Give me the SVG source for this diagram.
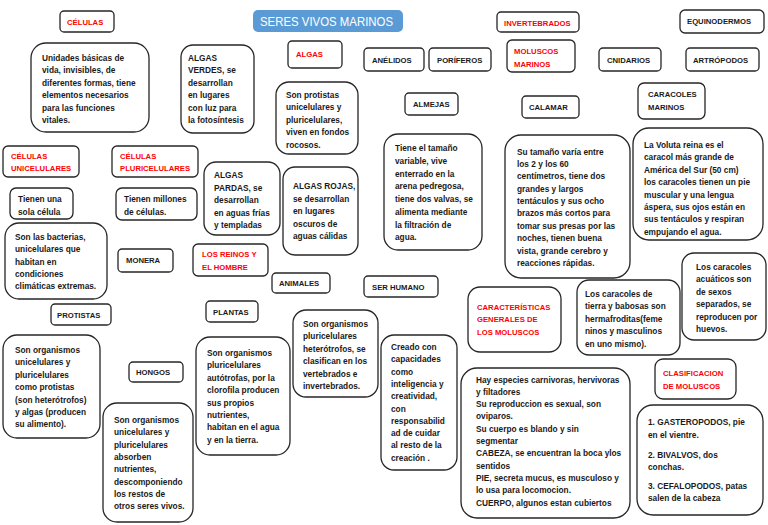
<svg xmlns="http://www.w3.org/2000/svg" width="768" height="525" viewBox="0 0 768 525">
<style>
rect.b{fill:#fff;stroke:#262626;stroke-width:1.3}
text{font-family:"Liberation Sans",Arial,sans-serif;font-weight:bold;font-size:8.3px;fill:#1a1a1a}
text.l{font-size:7.7px}
text.r{fill:#ff0000;font-size:7.7px}
text.ti{fill:#fff;font-weight:normal;font-size:13.5px}
</style>
<rect width="768" height="525" fill="#fff"/>
<g id="connectors"/>
<g id="title"><rect x="253" y="10" width="150" height="22" rx="5" fill="#5b9bd5"/><text class="ti" x="260" y="26" textLength="133" lengthAdjust="spacingAndGlyphs">SERES VIVOS MARINOS</text></g>
<g id="celulas"><rect class="b" x="60" y="11" width="54" height="21" rx="4"/><text class="r" x="67" y="24.5">CÉLULAS</text></g>
<g id="invertebrados"><rect class="b" x="497" y="12" width="82" height="20" rx="4"/><text class="r" x="504" y="25.5">INVERTEBRADOS</text></g>
<g id="equinodermos"><rect class="b" x="680" y="10" width="84" height="23" rx="5"/><text class="l" x="687" y="23.5">EQUINODERMOS</text></g>
<g id="unidades"><rect class="b" x="31" y="43" width="118" height="89" rx="15"/><text x="42" y="61"><tspan x="42" y="61">Unidades básicas de</tspan><tspan x="42" y="73.4">vida, invisibles, de</tspan><tspan x="42" y="85.8">diferentes formas, tiene</tspan><tspan x="42" y="98.2">elementos necesarios</tspan><tspan x="42" y="110.6">para las funciones</tspan><tspan x="42" y="123">vitales.</tspan></text></g>
<g id="algas-verdes"><rect class="b" x="181" y="45" width="73" height="88" rx="12"/><text x="188" y="61"><tspan x="188" y="61">ALGAS</tspan><tspan x="188" y="73.4">VERDES, se</tspan><tspan x="188" y="85.8">desarrollan</tspan><tspan x="188" y="98.2">en lugares</tspan><tspan x="188" y="110.6">con luz para</tspan><tspan x="188" y="123">la fotosíntesis</tspan></text></g>
<g id="algas"><rect class="b" x="288" y="41" width="54" height="27" rx="4"/><text class="r" x="296" y="56.5">ALGAS</text></g>
<g id="algas-desc"><rect class="b" x="276" y="82" width="82" height="72" rx="13"/><text x="286" y="98"><tspan x="286" y="98">Son protistas</tspan><tspan x="286" y="110.4">unicelulares y</tspan><tspan x="286" y="122.8">pluricelulares,</tspan><tspan x="286" y="135.2">viven en fondos</tspan><tspan x="286" y="147.6">rocosos.</tspan></text></g>
<g id="anelidos"><rect class="b" x="364" y="48" width="60" height="23" rx="4"/><text class="l" x="372" y="63">ANÉLIDOS</text></g>
<g id="poriferos"><rect class="b" x="429" y="48" width="62" height="23" rx="4"/><text class="l" x="437" y="63">PORÍFEROS</text></g>
<g id="moluscos-marinos"><rect class="b" x="507" y="40" width="68" height="32" rx="5"/><text class="r" x="514" y="54"><tspan x="514" y="54">MOLUSCOS</tspan><tspan x="514" y="66.5">MARINOS</tspan></text></g>
<g id="cnidarios"><rect class="b" x="599" y="48" width="62" height="23" rx="4"/><text class="l" x="607" y="63">CNIDARIOS</text></g>
<g id="artropodos"><rect class="b" x="686" y="48" width="73" height="23" rx="4"/><text class="l" x="693" y="63">ARTRÓPODOS</text></g>
<g id="almejas"><rect class="b" x="405" y="93" width="53" height="22" rx="4"/><text class="l" x="413" y="106.5">ALMEJAS</text></g>
<g id="calamar"><rect class="b" x="522" y="96" width="57" height="22" rx="4"/><text class="l" x="529" y="110">CALAMAR</text></g>
<g id="caracoles-marinos"><rect class="b" x="638" y="83" width="67" height="36" rx="6"/><text class="l" x="648" y="97"><tspan x="648" y="97">CARACOLES</tspan><tspan x="648" y="110">MARINOS</tspan></text></g>
<g id="almejas-desc"><rect class="b" x="384" y="134" width="98" height="116" rx="14"/><text x="395" y="151.3"><tspan x="395" y="151.3">Tiene el tamaño</tspan><tspan x="395" y="164">variable, vive</tspan><tspan x="395" y="176.7">enterrado en la</tspan><tspan x="395" y="189.4">arena pedregosa,</tspan><tspan x="395" y="202.1">tiene dos valvas, se</tspan><tspan x="395" y="214.8">alimenta mediante</tspan><tspan x="395" y="227.5">la filtración de</tspan><tspan x="395" y="240.2">agua.</tspan></text></g>
<g id="calamar-desc"><rect class="b" x="505" y="135" width="125" height="143" rx="16"/><text x="517" y="154.7"><tspan x="517" y="154.7">Su tamaño varía entre</tspan><tspan x="517" y="167">los 2 y los 60</tspan><tspan x="517" y="179.4">centímetros, tiene dos</tspan><tspan x="517" y="191.7">grandes y largos</tspan><tspan x="517" y="204.1">tentáculos y sus ocho</tspan><tspan x="517" y="216.4">brazos más cortos para</tspan><tspan x="517" y="228.8">tomar sus presas por las</tspan><tspan x="517" y="241.1">noches, tienen buena</tspan><tspan x="517" y="253.5">vista, grande cerebro y</tspan><tspan x="517" y="265.8">reacciones rápidas.</tspan></text></g>
<g id="voluta"><rect class="b" x="633" y="128" width="130" height="112" rx="16"/><text x="644" y="148"><tspan x="644" y="148">La Voluta reina es el</tspan><tspan x="644" y="160.4">caracol más grande de</tspan><tspan x="644" y="172.8">América del Sur (50 cm)</tspan><tspan x="644" y="185.2">los caracoles tienen un pie</tspan><tspan x="644" y="197.6">muscular y una lengua</tspan><tspan x="644" y="210">áspera, sus ojos están en</tspan><tspan x="644" y="222.4">sus tentáculos y respiran</tspan><tspan x="644" y="234.8">empujando el agua.</tspan></text></g>
<g id="caracoles-acuaticos"><rect class="b" x="682" y="253" width="84" height="87" rx="12"/><text x="696" y="270"><tspan x="696" y="270">Los caracoles</tspan><tspan x="696" y="282.4">acuáticos son</tspan><tspan x="696" y="294.8">de sexos</tspan><tspan x="696" y="307.2">separados, se</tspan><tspan x="696" y="319.6">reproducen por</tspan><tspan x="696" y="332">huevos.</tspan></text></g>
<g id="caracoles-tierra"><rect class="b" x="577" y="280" width="103" height="75" rx="12"/><text x="585" y="297"><tspan x="585" y="297">Los caracoles de</tspan><tspan x="585" y="309.4">tierra y babosas son</tspan><tspan x="585" y="321.8">hermafroditas(feme</tspan><tspan x="585" y="334.2">ninos y masculinos</tspan><tspan x="585" y="346.6">en uno mismo).</tspan></text></g>
<g id="celulas-uni"><rect class="b" x="3" y="146" width="76" height="31" rx="5"/><text class="r" x="11" y="159"><tspan x="11" y="159">CÉLULAS</tspan><tspan x="11" y="171.4">UNICELULARES</tspan></text></g>
<g id="celulas-pluri"><rect class="b" x="112" y="146" width="86" height="31" rx="5"/><text class="r" x="120" y="159"><tspan x="120" y="159">CÉLULAS</tspan><tspan x="120" y="171.4">PLURICELULARES</tspan></text></g>
<g id="una-celula"><rect class="b" x="10" y="188" width="63" height="31" rx="6"/><text x="18" y="202"><tspan x="18" y="202">Tienen una</tspan><tspan x="18" y="214.5">sola célula</tspan></text></g>
<g id="millones"><rect class="b" x="116" y="188" width="81" height="32" rx="6"/><text x="124" y="202"><tspan x="124" y="202">Tienen millones</tspan><tspan x="124" y="214.5">de células.</tspan></text></g>
<g id="bacterias"><rect class="b" x="5" y="223" width="102" height="76" rx="14"/><text x="15" y="240"><tspan x="15" y="240">Son las bacterias,</tspan><tspan x="15" y="252.3">unicelulares que</tspan><tspan x="15" y="264.6">habitan en</tspan><tspan x="15" y="276.9">condiciones</tspan><tspan x="15" y="289.2">climáticas extremas.</tspan></text></g>
<g id="monera"><rect class="b" x="118" y="249" width="55" height="23" rx="4"/><text class="l" x="126" y="263">MONERA</text></g>
<g id="protistas"><rect class="b" x="51" y="304" width="60" height="21" rx="4"/><text class="l" x="57" y="318">PROTISTAS</text></g>
<g id="algas-pardas"><rect class="b" x="204" y="162" width="76" height="73" rx="12"/><text x="214" y="178"><tspan x="214" y="178">ALGAS</tspan><tspan x="214" y="190.5">PARDAS, se</tspan><tspan x="214" y="203">desarrollan</tspan><tspan x="214" y="215.5">en aguas frías</tspan><tspan x="214" y="228">y templadas</tspan></text></g>
<g id="algas-rojas"><rect class="b" x="283" y="167" width="75" height="88" rx="12"/><text x="293" y="189"><tspan x="293" y="189">ALGAS ROJAS,</tspan><tspan x="293" y="201.5">se desarrollan</tspan><tspan x="293" y="214">en lugares</tspan><tspan x="293" y="226.5">oscuros de</tspan><tspan x="293" y="239">aguas cálidas</tspan></text></g>
<g id="reinos"><rect class="b" x="193" y="244" width="75" height="32" rx="5"/><text class="r" x="202" y="257"><tspan x="202" y="257">LOS REINOS Y</tspan><tspan x="202" y="269.5">EL HOMBRE</tspan></text></g>
<g id="animales"><rect class="b" x="272" y="273" width="58" height="20" rx="4"/><text class="l" x="279" y="286">ANIMALES</text></g>
<g id="ser-humano"><rect class="b" x="364" y="276" width="74" height="21" rx="4"/><text class="l" x="372" y="289.5">SER HUMANO</text></g>
<g id="plantas"><rect class="b" x="206" y="301" width="52" height="21" rx="4"/><text class="l" x="213" y="314.5">PLANTAS</text></g>
<g id="plantas-desc"><rect class="b" x="196" y="337" width="94" height="118" rx="14"/><text x="207" y="356"><tspan x="207" y="356">Son organismos</tspan><tspan x="207" y="368.4">pluricelulares</tspan><tspan x="207" y="380.8">autótrofas, por la</tspan><tspan x="207" y="393.2">clorofila producen</tspan><tspan x="207" y="405.6">sus propios</tspan><tspan x="207" y="418">nutrientes,</tspan><tspan x="207" y="430.4">habitan en el agua</tspan><tspan x="207" y="442.8">y en la tierra.</tspan></text></g>
<g id="animales-desc"><rect class="b" x="293" y="310" width="85" height="87" rx="13"/><text x="303" y="327"><tspan x="303" y="327">Son organismos</tspan><tspan x="303" y="339.4">pluricelulares</tspan><tspan x="303" y="351.8">heterótrofos, se</tspan><tspan x="303" y="364.2">clasifican en los</tspan><tspan x="303" y="376.6">vertebrados e</tspan><tspan x="303" y="389">invertebrados.</tspan></text></g>
<g id="protistas-desc"><rect class="b" x="3" y="335" width="97" height="103" rx="14"/><text x="15" y="353"><tspan x="15" y="353">Son organismos</tspan><tspan x="15" y="365.4">unicelulares y</tspan><tspan x="15" y="377.8">pluricelulares</tspan><tspan x="15" y="390.2">como protistas</tspan><tspan x="15" y="402.6">(son heterótrofos)</tspan><tspan x="15" y="415">y algas (producen</tspan><tspan x="15" y="427.4">su alimento).</tspan></text></g>
<g id="hongos"><rect class="b" x="129" y="362" width="54" height="20" rx="4"/><text class="l" x="136" y="375">HONGOS</text></g>
<g id="hongos-desc"><rect class="b" x="103" y="403" width="90" height="119" rx="14"/><text x="114" y="423"><tspan x="114" y="423">Son organismos</tspan><tspan x="114" y="435.3">unicelulares y</tspan><tspan x="114" y="447.6">pluricelulares</tspan><tspan x="114" y="459.9">absorben</tspan><tspan x="114" y="472.2">nutrientes,</tspan><tspan x="114" y="484.5">descomponiendo</tspan><tspan x="114" y="496.8">los restos de</tspan><tspan x="114" y="509.1">otros seres vivos.</tspan></text></g>
<g id="humano-desc"><rect class="b" x="381" y="335" width="76" height="135" rx="13"/><text x="391" y="350"><tspan x="391" y="350">Creado con</tspan><tspan x="391" y="362.3">capacidades</tspan><tspan x="391" y="374.6">como</tspan><tspan x="391" y="386.9">inteligencia y</tspan><tspan x="391" y="399.2">creatividad,</tspan><tspan x="391" y="411.5">con</tspan><tspan x="391" y="423.8">responsabilid</tspan><tspan x="391" y="436.1">ad de cuidar</tspan><tspan x="391" y="448.4">al resto de la</tspan><tspan x="391" y="460.7">creación .</tspan></text></g>
<g id="caracteristicas"><rect class="b" x="468" y="287" width="93" height="65" rx="12"/><text class="r" x="477" y="310"><tspan x="477" y="310">CARACTERÍSTICAS</tspan><tspan x="477" y="322.4">GENERALES DE</tspan><tspan x="477" y="334.8">LOS MOLUSCOS</tspan></text></g>
<g id="hay-especies"><rect class="b" x="461" y="368" width="169" height="150" rx="16"/><text x="476" y="382.5"><tspan x="476" y="382.5">Hay especies carnivoras, hervivoras</tspan><tspan x="476" y="394.8">y filtadores</tspan><tspan x="476" y="407.1">Su reproduccion es sexual, son</tspan><tspan x="476" y="419.4">oviparos.</tspan><tspan x="476" y="431.7">Su cuerpo es blando y sin</tspan><tspan x="476" y="444">segmentar</tspan><tspan x="476" y="456.3">CABEZA, se encuentran la boca ylos</tspan><tspan x="476" y="468.6">sentidos</tspan><tspan x="476" y="480.9">PIE, secreta mucus, es musculoso y</tspan><tspan x="476" y="493.2">lo usa para locomocion.</tspan><tspan x="476" y="505.5">CUERPO, algunos estan cubiertos</tspan></text></g>
<g id="clasificacion"><rect class="b" x="655" y="359" width="81" height="40" rx="8"/><text class="r" x="663" y="376"><tspan x="663" y="376">CLASIFICACION</tspan><tspan x="663" y="388.5">DE MOLUSCOS</tspan></text></g>
<g id="clasificacion-desc"><rect class="b" x="637" y="405" width="126" height="110" rx="16"/><text x="648" y="425"><tspan x="648" y="425">1. GASTEROPODOS, pie</tspan><tspan x="648" y="437.5">en el vientre.</tspan><tspan x="648" y="457.5">2. BIVALVOS, dos</tspan><tspan x="648" y="470">conchas.</tspan><tspan x="648" y="489">3. CEFALOPODOS, patas</tspan><tspan x="648" y="501">salen de la cabeza</tspan></text></g>
</svg>
